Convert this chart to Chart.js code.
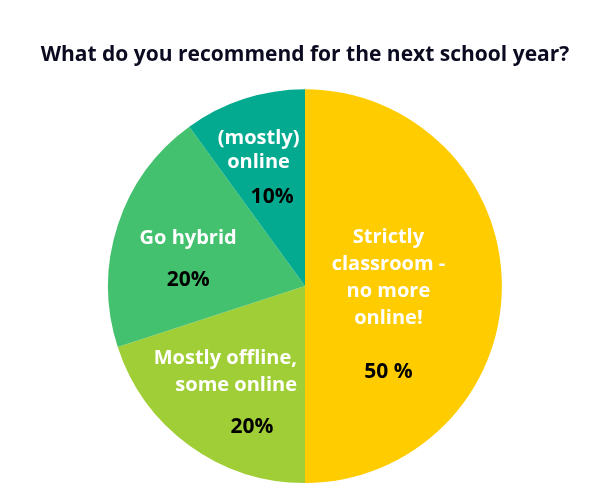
<!DOCTYPE html>
<html>
<head>
<meta charset="utf-8">
<title>Next school year</title>
<script src="https://cdn.jsdelivr.net/npm/chart.js@4.4.0/dist/chart.umd.min.js"></script>
<style>
  html, body { margin: 0; padding: 0; background: #fff; }
  #wrap { width: 596px; height: 500px; }
</style>
</head>
<body>
<div id="wrap"><canvas id="myChart" width="596" height="500"></canvas></div>
<script>
// data
var categories = ["Strictly classroom - no more online!", "Mostly offline, some online", "Go hybrid", "(mostly) online"];
var values = [50, 20, 20, 10];
var nameLines = [
  ["Strictly", "classroom -", "no more", "online!"],
  ["Mostly offline,", "some online"],
  ["Go hybrid"],
  ["(mostly)", "online"]
];
var pctLabels = ["50 %", "20%", "20%", "10%"];

var colors = ["#ffcc00", "#a0ce37", "#44c16e", "#03aa8f"];

// where each text block sits inside its slice (fraction of radius, turn from mid angle in deg)
var labelLayout = [
  { f: 0.434, turn: 12.5, align: "center", lh: 27, gap: 54, pctDx: 0 },
  { f: 0.542, turn: -31.7, align: "right", lh: 27, gap: 42, pctDx: -45 },
  { f: 0.609, turn: -5, align: "center", lh: 27, gap: 42, pctDx: 0 },
  { f: 0.646, turn: -3.4, align: "center", lh: 24, gap: 35, pctDx: 13.5 }
];

var FONT = "'Open Sans', 'DejaVu Sans', sans-serif";

var sliceLabels = {
  id: "sliceLabels",
  afterDatasetsDraw: function (chart) {
    var ctx = chart.ctx;
    var meta = chart.getDatasetMeta(0);
    meta.data.forEach(function (arc, i) {
      var lay = labelLayout[i];
      var mid = (arc.startAngle + arc.endAngle) / 2 + lay.turn * Math.PI / 180;
      var r = arc.outerRadius * lay.f;
      var ax = arc.x + Math.cos(mid) * r;
      var ay = arc.y + Math.sin(mid) * r;
      var lines = nameLines[i];
      var span = (lines.length - 1) * lay.lh + lay.gap;
      var y0 = ay - span / 2;

      ctx.save();
      ctx.textBaseline = "middle";
      ctx.font = "bold 20px " + FONT;
      ctx.fillStyle = "#ffffff";
      ctx.textAlign = lay.align;
      for (var k = 0; k < lines.length; k++) {
        ctx.fillText(lines[k], ax, y0 + k * lay.lh);
      }
      ctx.font = "bold 21px " + FONT;
      ctx.fillStyle = "#000000";
      ctx.textAlign = "center";
      ctx.fillText(pctLabels[i], ax + lay.pctDx, y0 + span);
      ctx.restore();
    });
  }
};

var ctx = document.getElementById("myChart");
var myChart = new Chart(ctx, {
  type: "pie",
  data: {
    labels: categories,
    datasets: [
      {
        data: values,
        backgroundColor: colors,
        borderWidth: 0,
        hoverOffset: 0
      }
    ]
  },
  options: {
    responsive: false,
    animation: false,
    devicePixelRatio: 1,
    layout: {
      padding: { left: 14, right: 0, top: 0, bottom: 17 }
    },
    plugins: {
      legend: { display: false },
      tooltip: { enabled: false },
      title: {
        display: true,
        text: "What do you recommend for the next school year?",
        color: "#0a0a20",
        font: { family: FONT, size: 21, weight: "bold", lineHeight: 1.2 },
        padding: { top: 42, bottom: 22 }
      }
    }
  },
  plugins: [sliceLabels]
});
</script>
</body>
</html>
